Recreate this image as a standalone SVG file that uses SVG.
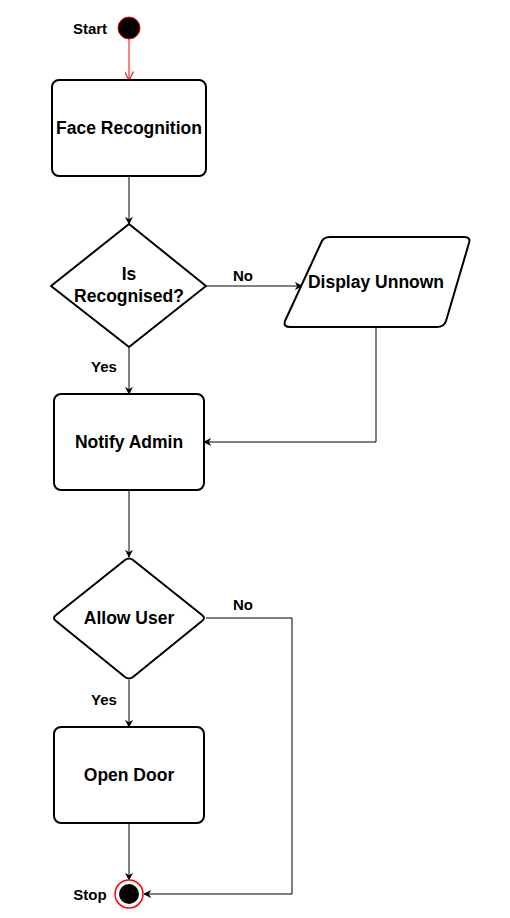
<svg xmlns="http://www.w3.org/2000/svg" width="510" height="918" viewBox="0 0 510 918">
<style>
.shape{fill:#fff;stroke:#000;stroke-width:2;stroke-linejoin:round}
.t{font-family:"Liberation Sans",Arial,sans-serif;font-weight:bold;font-size:17.5px;text-anchor:middle;dominant-baseline:central;fill:#000}
.l{font-family:"Liberation Sans",Arial,sans-serif;font-weight:bold;font-size:15px;text-anchor:middle;dominant-baseline:central;fill:#000}
.c{fill:none;stroke:#000;stroke-width:1}
</style>
<defs>
<marker id="a" viewBox="0 0 10 10" refX="9" refY="5" markerWidth="8" markerHeight="8" markerUnits="userSpaceOnUse" orient="auto"><path d="M0,0 L10,5 L0,10 L3,5 Z" fill="#000"/></marker>
<marker id="ar" viewBox="0 0 10 10" refX="9.5" refY="5" markerWidth="9" markerHeight="9" markerUnits="userSpaceOnUse" orient="auto"><path d="M0,0 L10,5 L0,10" fill="none" stroke="#f00" stroke-width="1.2"/></marker>
</defs>
<rect x="0" y="0" width="510" height="918" fill="#fff"/>
<g id="connectors">
<path class="c" d="M129,39 V80" style="stroke:#f00" marker-end="url(#ar)"/>
<path class="c" d="M129,176 V224" marker-end="url(#a)"/>
<path class="c" d="M206,286 H302" marker-end="url(#a)"/>
<path class="c" d="M376,328 V442 H204" marker-end="url(#a)"/>
<path class="c" d="M129,347 V394" marker-end="url(#a)"/>
<path class="c" d="M129,490 V557" marker-end="url(#a)"/>
<path class="c" d="M206,618 H292 V894 H144" marker-end="url(#a)"/>
<path class="c" d="M129,680 V727" marker-end="url(#a)"/>
<path class="c" d="M129,823 V880" marker-end="url(#a)"/>
<text class="l" x="243" y="275">No</text>
<text class="l" x="104" y="366">Yes</text>
<text class="l" x="243" y="604">No</text>
<text class="l" x="104" y="699">Yes</text>
</g>
<g id="start">
<circle cx="129" cy="28" r="11" fill="#000" stroke="#f00" stroke-width="1"/>
<text class="l" x="90" y="28">Start</text>
</g>
<g id="face">
<rect class="shape" x="52" y="80" width="154" height="96" rx="7"/>
<text class="t" x="129" y="128">Face Recognition</text>
</g>
<g id="recognised">
<path class="shape" d="M129,224 L206,286 L129,347 L51,286 Z"/>
<text class="t" x="129" y="274">Is</text>
<text class="t" x="129" y="296">Recognised?</text>
</g>
<g id="display">
<path class="shape" d="M330,237 H464 Q471,237 469,243 L446,321 Q444,327 437,327 H290 Q283,327 285,321 L321,243 Q323,237 330,237 Z"/>
<text class="t" x="376" y="282">Display Unnown</text>
</g>
<g id="notify">
<rect class="shape" x="54" y="394" width="150" height="96" rx="7"/>
<text class="t" x="129" y="442">Notify Admin</text>
</g>
<g id="allow">
<path class="shape" d="M133,560 L202,615 Q206,618 202,621 L133,677 Q129,680 125,677 L56,621 Q52,618 56,615 L125,560 Q129,557 133,560 Z"/>
<text class="t" x="129" y="618">Allow User</text>
</g>
<g id="open">
<rect class="shape" x="54" y="727" width="150" height="96" rx="7"/>
<text class="t" x="129" y="775">Open Door</text>
</g>
<g id="stop">
<circle cx="129" cy="894" r="14" fill="#fff" stroke="#f00" stroke-width="1.5"/>
<circle cx="129" cy="894" r="10" fill="#000"/>
<text class="l" x="90" y="894">Stop</text>
</g>
</svg>
